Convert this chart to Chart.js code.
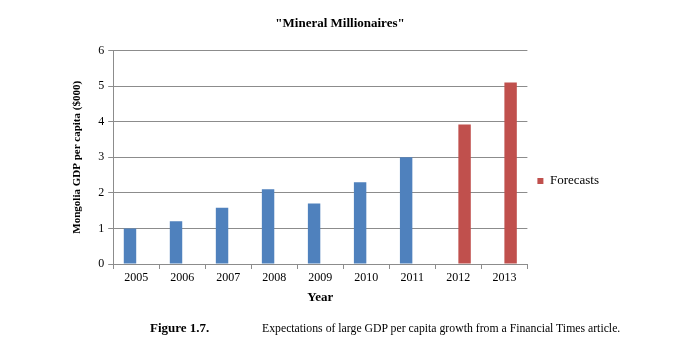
<!DOCTYPE html>
<html>
<head>
<meta charset="utf-8">
<script src="https://cdn.jsdelivr.net/npm/chart.js@4"></script>
<style>
  body { margin: 0; background: #fff; }
  #wrap { position: relative; width: 680px; height: 350px; }
  #caption {
    position: absolute; left: 150px; top: 320px;
    font-family: "Liberation Serif", serif; font-size: 11.75px; color: #000;
    white-space: nowrap;
  }
  #caption b { display: inline-block; width: 112px; font-size: 13px; }
</style>
</head>
<body>
<div id="wrap">
  <canvas id="gdpChart" width="680" height="350"></canvas>
  <div id="caption"><b>Figure 1.7.</b>Expectations of large GDP per capita growth from a Financial Times article.</div>
</div>
<script>
const years = ["2005", "2006", "2007", "2008", "2009", "2010", "2011", "2012", "2013"];
const actual = [1.0, 1.2, 1.58, 2.1, 1.7, 2.3, 3.0, null, null];
const forecasts = [null, null, null, null, null, null, null, 3.92, 5.1];

const serif = "'Liberation Serif', 'Times New Roman', serif";
const gridGrey = "#8c8c8c";

// Function to draw the bar chart
function drawGdpChart() {
    const ctx = document.getElementById("gdpChart").getContext("2d");
    new Chart(ctx, {
        type: "bar",
        data: {
            labels: years,
            datasets: [{
                label: "Actual",
                data: actual,
                backgroundColor: "#4f81bd"
            }, {
                label: "Forecasts",
                data: forecasts,
                backgroundColor: "#c0504d"
            }]
        },
        options: {
            responsive: false,
            animation: false,
            categoryPercentage: 0.54,
            barPercentage: 1.0,
            layout: { padding: { left: 71, right: 71, top: 12, bottom: 0 } },
            plugins: {
                title: {
                    display: true,
                    text: "\"Mineral Millionaires\"",
                    color: "#000",
                    font: { family: serif, size: 13, weight: "bold" },
                    padding: { top: 4, bottom: 19 }
                },
                legend: {
                    position: "right",
                    labels: {
                        filter: item => item.datasetIndex === 1,
                        boxWidth: 6,
                        boxHeight: 6,
                        color: "#000",
                        font: { family: serif, size: 13 }
                    }
                },
                tooltip: { enabled: false }
            },
            scales: {
                x: {
                    grid: { drawOnChartArea: false, color: gridGrey, tickLength: 5 },
                    border: { color: gridGrey },
                    ticks: { color: "#000", font: { family: serif, size: 12 }, padding: 2 },
                    title: {
                        display: true,
                        text: "Year",
                        color: "#000",
                        font: { family: serif, size: 13, weight: "bold" },
                        padding: { top: 2, bottom: 45 }
                    }
                },
                y: {
                    min: 0,
                    max: 6,
                    grid: { color: gridGrey, tickLength: 5 },
                    border: { color: gridGrey },
                    ticks: { stepSize: 1, color: "#000", font: { family: serif, size: 12 }, padding: 4 },
                    title: {
                        display: true,
                        text: "Mongolia GDP per capita ($000)",
                        color: "#000",
                        font: { family: serif, size: 11, weight: "bold" },
                        padding: { top: 0, bottom: 10 }
                    }
                }
            }
        }
    });
}

drawGdpChart();
</script>
</body>
</html>
